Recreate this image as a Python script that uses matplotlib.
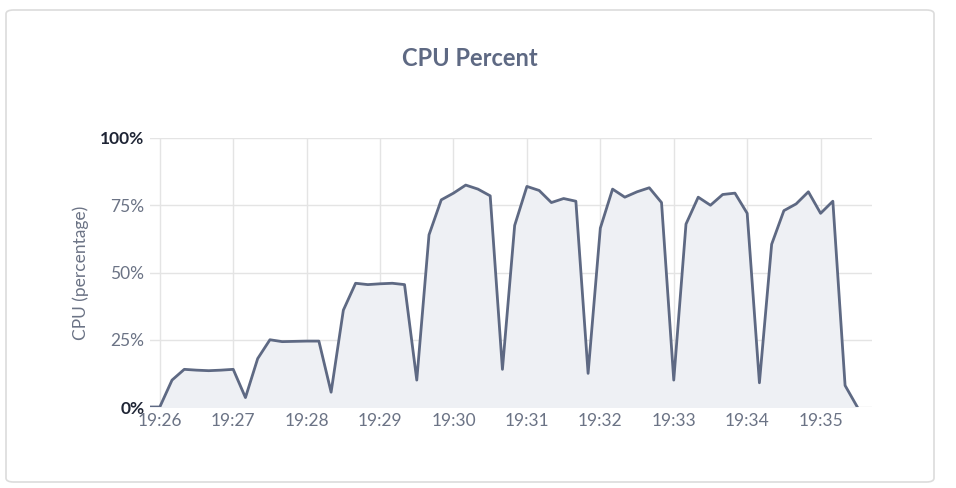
import matplotlib
matplotlib.use("Agg")
import matplotlib.pyplot as plt
from matplotlib.patches import FancyBboxPatch
import numpy as np

# seconds since 19:26:00
times = [-8] + [i * 10 for i in range(58)]
cpu = [0, 0, 10, 14, 13.7, 13.5, 13.7, 14, 3.5, 18, 25, 24.3, 24.4, 24.5, 24.5, 5.5,
       36, 46, 45.5, 45.8, 46, 45.5, 10, 64, 77, 79.5, 82.5, 81, 78.5, 14, 67.5,
       82, 80.5, 76, 77.5, 76.5, 12.5, 66.5, 81, 78, 80, 81.5, 76, 10, 68, 78, 75,
       79, 79.5, 72, 9, 60.5, 73, 75.5, 80, 72, 76.5, 8, 0]
cpu = cpu[:len(times)]
tick_labels = ["19:26", "19:27", "19:28", "19:29", "19:30", "19:31", "19:32", "19:33", "19:34", "19:35"]
y_ticks = [0, 25, 50, 75, 100]

plt.rcParams['font.family'] = ['Lato', 'DejaVu Sans']
fig = plt.figure(figsize=(9.56, 4.88), dpi=100)
card = FancyBboxPatch((6/956, 6/488), 928/956, 472/488,
                      boxstyle="round,pad=0,rounding_size=0.008",
                      transform=fig.transFigure, fc="white", ec="#dcdcdc", lw=1.2, zorder=-10)
fig.patches.append(card)
ax = fig.add_axes([150/956, 1-407/488, 722/956, 269/488])
ax.set_zorder(5)
ax.set_facecolor("none")
line_c = "#5e6983"
ax.fill_between(times, cpu, color="#eef0f4", zorder=1)
ax.plot(times, cpu, color=line_c, lw=2, zorder=3)
ax.set_xlim(-8, 582)
ax.set_ylim(0, 100)
ax.set_xticks([i * 60 for i in range(len(tick_labels))])
ax.set_xticklabels(tick_labels)
ax.set_yticks(y_ticks)
ax.set_yticklabels([f"{v}%" for v in y_ticks])
for lbl, v in zip(ax.get_yticklabels(), y_ticks):
    if v in (0, 100):
        lbl.set_fontweight("bold"); lbl.set_color("#1f2535")
    else:
        lbl.set_color("#6b7385")
for lbl in ax.get_xticklabels():
    lbl.set_color("#6b7385")
ax.tick_params(labelsize=12.5, length=0, pad=4)
ax.grid(True, color="#e4e4e4", lw=1, zorder=0)
ax.set_axisbelow(True)
for s in ax.spines.values():
    s.set_visible(False)
ax.set_ylabel("CPU (percentage)", color="#6b7385", fontsize=12.5, labelpad=8)
fig.text(470/956, 1-58/488, "CPU Percent", ha="center", va="center",
         fontsize=17, fontweight="bold", color="#5e6983")
fig.savefig("out.png", dpi=100)
